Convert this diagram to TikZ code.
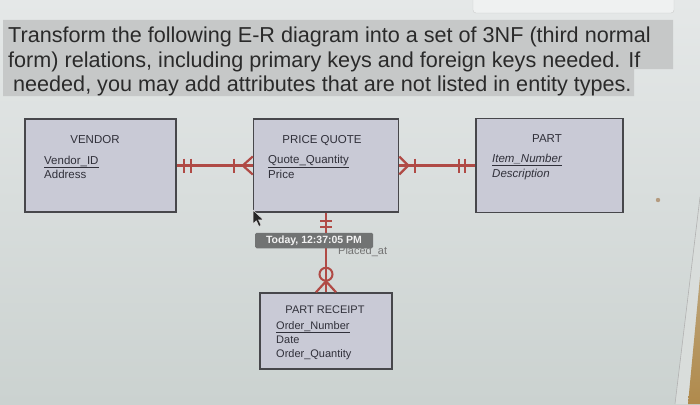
\documentclass[tikz,border=0pt]{standalone}
\usepackage{fontspec}
\setmainfont{Liberation Sans}
\usetikzlibrary{calc}
\definecolor{bgtop}{HTML}{E5E8E8}
\definecolor{bgbot}{HTML}{CBD2D0}
\definecolor{band}{HTML}{C6C8C8}
\definecolor{ink}{HTML}{2A2A2A}
\definecolor{boxfill}{HTML}{C9CAD6}
\definecolor{boxline}{HTML}{47474B}
\definecolor{relred}{HTML}{B04A45}
\definecolor{tipfill}{HTML}{717373}
\definecolor{boxtext}{HTML}{30303A}
\definecolor{wood}{HTML}{B08A4C}
\definecolor{bezel}{HTML}{D9DDDB}
\begin{document}
\begin{tikzpicture}[x=1pt,y=-1pt,
  entity/.style={draw=boxline, line width=1.5pt, fill=boxfill, inner sep=0pt},
  hdr/.style={font=\fontsize{11.5}{13}\selectfont, text=boxtext, inner sep=0pt, anchor=base},
  attr/.style={font=\fontsize{11.5}{13}\selectfont, text=boxtext, inner sep=0pt, anchor=base west},
  rel/.style={draw=relred, line width=2.2pt},
  tick/.style={draw=relred, line width=2pt},
  titleline/.style={font=\fontsize{21.6}{25}\selectfont, text=ink, inner sep=0pt, anchor=base west}]
\useasboundingbox (0,0) rectangle (700,404);
% background
\shade[top color=bgtop, bottom color=bgbot] (0,0) rectangle (700,404);
\fill[bezel] (700,197) -- (675,404) -- (688,404) -- (700,277) -- cycle;
\draw[gray!60, line width=0.6pt] (700,197) -- (675,404);
\shade[top color=wood!70!bezel, bottom color=wood] (700,277) -- (688,404) -- (700,404) -- cycle;
\fill[brown!60!gray, opacity=0.7] (658,200) circle (2.2);
\draw[gray!40, fill=bgtop!60!white, rounded corners=3pt] (473,-5) rectangle (674,13);
% title
\fill[band] (3,20) -- (673,20) -- (673,69) -- (634,69) -- (634,96) -- (3,96) -- cycle;
\node[titleline] (t1) at (8,42) {Transform the following E-R diagram into a set of 3NF (third normal};
\node[titleline] (t2) at (8,67) {form) relations, including primary keys and foreign keys needed. If};
\node[titleline] (t3) at (13,91) {needed, you may add attributes that are not listed in entity types.};
% entities
\node[entity, minimum width=151pt, minimum height=93pt] (vendor) at (100.5,165.5) {};
\node[entity, minimum width=145pt, minimum height=93pt] (quote) at (326,165.5) {};
\node[entity, minimum width=147pt, minimum height=94pt] (part) at (549.5,165.5) {};
\node[entity, minimum width=132pt, minimum height=76pt] (receipt) at (326,331) {};
% entity texts
\node[hdr] (vh) at (95,143) {VENDOR};
\node[attr] (va1) at (44,164) {\underline{Vendor\_ID}};
\node[attr] (va2) at (44,178) {Address};
\node[hdr] (qh) at (322,143) {PRICE QUOTE};
\node[attr] (qa1) at (268,163) {\underline{Quote\_Quantity}};
\node[attr] (qa2) at (268,178) {Price};
\node[hdr] (ph) at (547,142) {PART};
\node[attr] (pa1) at (492,162) {\itshape\underline{Item\_Number}};
\node[attr] (pa2) at (492,177) {\itshape Description};
\node[hdr, font=\fontsize{11}{12}\selectfont] (rh) at (325,313) {PART RECEIPT};
\node[attr, font=\fontsize{11}{13}\selectfont] (ra1) at (276,329) {\underline{Order\_Number}};
\node[attr, font=\fontsize{11}{13}\selectfont] (ra2) at (276,343) {Date};
\node[attr, font=\fontsize{11}{13}\selectfont] (ra3) at (276,357) {Order\_Quantity};
% VENDOR -- PRICE QUOTE
\draw[rel] (vendor.east) -- (quote.west);
\draw[tick] ($(vendor.east)+(7,-7)$) -- ++(0,14);
\draw[tick] ($(vendor.east)+(14,-7)$) -- ++(0,14);
\draw[tick] ($(quote.west)+(-19,-7)$) -- ++(0,14);
\draw[rel] ($(quote.west)+(0,-9)$) -- ($(quote.west)+(-10,0)$) -- ($(quote.west)+(0,9)$);
% PRICE QUOTE -- PART
\draw[rel] (quote.east) -- (part.west);
\draw[rel] ($(quote.east)+(0,-9)$) -- ($(quote.east)+(9,0)$) -- ($(quote.east)+(0,9)$);
\draw[tick] ($(quote.east)+(16,-7)$) -- ++(0,14);
\draw[tick] ($(part.west)+(-16,-7)$) -- ++(0,14);
\draw[tick] ($(part.west)+(-10,-7)$) -- ++(0,14);
% PRICE QUOTE -- PART RECEIPT
\draw[rel] (quote.south) -- (receipt.north);
\draw[tick] ($(quote.south)+(-6,8)$) -- ++(12,0);
\draw[tick] ($(quote.south)+(-6,14)$) -- ++(12,0);
\node[draw=relred, line width=2pt, circle, minimum size=13pt, inner sep=0pt] (opt) at ($(receipt.north)+(0,-18)$) {};
\draw[rel] ($(receipt.north)+(-10,0)$) -- ($(receipt.north)+(0,-11)$) -- ($(receipt.north)+(10,0)$);
% relationship name, partly hidden by the tooltip
\node[font=\fontsize{11}{13}\selectfont, text=black!55, anchor=base west, inner sep=0pt] (relname) at (338,254) {Placed\_at};
\node[fill=tipfill, rounded corners=1.5pt, minimum width=118pt, minimum height=15.5pt, inner sep=0pt,
      text=white!90!gray, font=\bfseries\fontsize{10.5}{12}\selectfont] (tip) at (314,240.5) {Today, 12:37:05 PM};
% mouse pointer
\filldraw[fill=black!85, draw=white!80!gray, line width=0.5pt]
  (253,210) -- ++(0,14) -- ++(3.3,-3.3) -- ++(2.6,5.6) -- ++(2.2,-1) -- ++(-2.6,-5.5) -- ++(4.8,0) -- cycle;
\end{tikzpicture}
\end{document}
